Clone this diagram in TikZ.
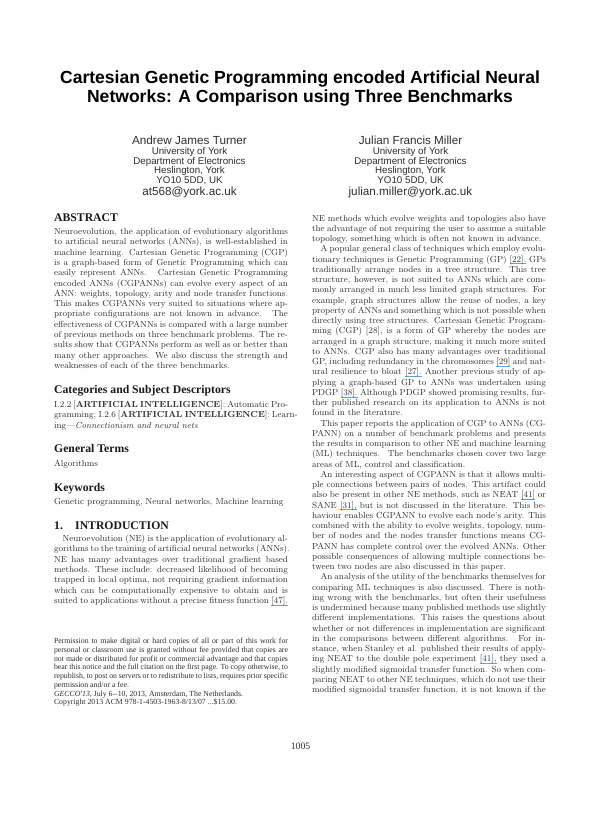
\documentclass[tikz,border=0pt]{standalone}
\usepackage{fontspec}
\newfontfamily\timesf{Liberation Serif}
\newfontfamily\helvf{Liberation Sans}
\definecolor{lnk}{RGB}{90,165,230}
\definecolor{bodyc}{gray}{0.18}
\newcounter{tl}
\newcommand\citeline[1]{\mbox{\setbox0\hbox{#1}\rlap{\textcolor{lnk}{\rule[-2pt]{\wd0}{0.7pt}}}\box0}}
\tikzset{
 txt/.style={anchor=base west,inner sep=0pt,outer sep=0pt,text=bodyc,font=\fontsize{8.8}{10}\selectfont},
 foot/.style={txt,font=\timesf\fontsize{7.8}{9}\selectfont},
 head/.style={anchor=base west,inner sep=0pt,text=black!90,font=\timesf\bfseries\fontsize{11.7}{13}\selectfont},
 title/.style={anchor=base,inner sep=0pt,text=black,font=\helvf\bfseries\fontsize{17.55}{20}\selectfont},
 aname/.style={anchor=base,inner sep=0pt,text=bodyc,font=\helvf\fontsize{11.7}{13}\selectfont},
 aff/.style={anchor=base,inner sep=0pt,text=bodyc,font=\helvf\fontsize{9.75}{11}\selectfont},
}
\newcommand\TJ[4]{\stepcounter{tl}\node[#1] (t\arabic{tl}) at (#2,#3) {\makebox[234pt][s]{#4}};}
\newcommand\TI[4]{\stepcounter{tl}\node[#1] (t\arabic{tl}) at (#2+8.6,#3) {\makebox[225.4pt][s]{#4}};}
\newcommand\TN[4]{\stepcounter{tl}\node[#1] (t\arabic{tl}) at (#2,#3) {#4};}
\newcommand\AL[2]{\TJ{txt}{54}{234.5+10.3*#1}{#2}}
\newcommand\IL[2]{\TJ{txt}{54}{541.5+10.3*#1}{#2}}
\newcommand\FL[2]{\TJ{foot}{54}{643.5+8.78*#1}{#2}}
\newcommand\RL[2]{\TJ{txt}{312}{221+10.25*#1}{#2}}
\newcommand\RI[2]{\TI{txt}{312}{221+10.25*#1}{#2}}
\newcommand\RN[2]{\TN{txt}{312}{221+10.25*#1}{#2}}
\begin{document}
\begin{tikzpicture}[x=1pt,y=-1pt]
\useasboundingbox (0,0) rectangle (600,825);
\fill[white] (0,0) rectangle (600,825);
% title
\node[title] (title1) at (300,83.3) {Cartesian Genetic Programming encoded Artificial Neural};
\node[title] (title2) at (300,102.7) {Networks: A Comparison using Three Benchmarks};
% authors
\node[aname] (a1) at (189.5,144) {Andrew James Turner};
\node[aff] (a2) at (189.5,154) {University of York};
\node[aff] (a3) at (189.5,164) {Department of Electronics};
\node[aff] (a4) at (189.5,173.7) {Heslington, York};
\node[aff] (a5) at (189.5,183.5) {YO10 5DD, UK};
\node[aname] (a6) at (189.5,195) {at568@york.ac.uk};
\node[aname] (b1) at (410.5,144) {Julian Francis Miller};
\node[aff] (b2) at (410.5,154) {University of York};
\node[aff] (b3) at (410.5,164) {Department of Electronics};
\node[aff] (b4) at (410.5,173.7) {Heslington, York};
\node[aff] (b5) at (410.5,183.5) {YO10 5DD, UK};
\node[aname] (b6) at (410.5,195) {julian.miller@york.ac.uk};
% left column
\node[head] (habs) at (54,221) {ABSTRACT};
\AL{0}{Neuroevolution, the application of evolutionary algorithms}
\AL{1}{to artificial neural networks (ANNs), is well-established in}
\AL{2}{machine learning. Cartesian Genetic Programming (CGP)}
\AL{3}{is a graph-based form of Genetic Programming which can}
\AL{4}{easily represent ANNs. \ Cartesian Genetic Programming}
\AL{5}{encoded ANNs (CGPANNs) can evolve every aspect of an}
\AL{6}{ANN: weights, topology, arity and node transfer functions.}
\AL{7}{This makes CGPANNs very suited to situations where ap-}
\AL{8}{propriate configurations are not known in advance. \ The}
\AL{9}{effectiveness of CGPANNs is compared with a large number}
\AL{10}{of previous methods on three benchmark problems. The re-}
\AL{11}{sults show that CGPANNs perform as well as or better than}
\AL{12}{many other approaches. We also discuss the strength and}
\TN{txt}{54}{234.5+10.3*13}{weaknesses of each of the three benchmarks.}
\node[head] (hcat) at (54,393) {Categories and Subject Descriptors};
\TJ{txt}{54}{407}{I.2.2 [\textbf{ARTIFICIAL INTELLIGENCE}]: Automatic Pro-}
\TJ{txt}{54}{417.5}{gramming; I.2.6 [\textbf{ARTIFICIAL INTELLIGENCE}]: Learn-}
\TN{txt}{54}{428}{ing---\textit{Connectionism and neural nets}}
\node[head] (hgen) at (54,452) {General Terms};
\TN{txt}{54}{466}{Algorithms}
\node[head] (hkey) at (54,491) {Keywords};
\TN{txt}{54}{504.5}{Genetic programming, Neural networks, Machine learning}
\node[head] (hint) at (54,529) {1.};
\node[head] (hint2) at (75,529) {INTRODUCTION};
\TI{txt}{54}{541.5}{Neuroevolution (NE) is the application of evolutionary al-}
\IL{1}{gorithms to the training of artificial neural networks (ANNs).}
\IL{2}{NE has many advantages over traditional gradient based}
\IL{3}{methods. These include: decreased likelihood of becoming}
\IL{4}{trapped in local optima, not requiring gradient information}
\IL{5}{which can be computationally expensive to obtain and is}
\IL{6}{suited to applications without a precise fitness function \citeline{[47].}}
% footnote
\FL{0}{Permission to make digital or hard copies of all or part of this work for}
\FL{1}{personal or classroom use is granted without fee provided that copies are}
\FL{2}{not made or distributed for profit or commercial advantage and that copies}
\FL{3}{bear this notice and the full citation on the first page. To copy otherwise, to}
\FL{4}{republish, to post on servers or to redistribute to lists, requires prior specific}
\TN{foot}{54}{643.5+8.78*5}{permission and/or a fee.}
\TN{foot}{54}{643.5+8.78*6}{\textit{GECCO'13,} July 6--10, 2013, Amsterdam, The Netherlands.}
\TN{foot}{54}{643.5+8.78*7}{Copyright 2013 ACM 978-1-4503-1963-8/13/07 ...\$15.00.}
\node[anchor=base,inner sep=0pt,text=bodyc,font=\timesf\fontsize{9.75}{11}\selectfont] (pg) at (300.5,749) {1005};
% right column
\RL{0}{NE methods which evolve weights and topologies also have}
\RL{1}{the advantage of not requiring the user to assume a suitable}
\RN{2}{topology, something which is often not known in advance.}
\RI{3}{A popular general class of techniques which employ evolu-}
\RL{4}{tionary techniques is Genetic Programming (GP) \citeline{[22].} GPs}
\RL{5}{traditionally arrange nodes in a tree structure. This tree}
\RL{6}{structure, however, is not suited to ANNs which are com-}
\RL{7}{monly arranged in much less limited graph structures. For}
\RL{8}{example, graph structures allow the reuse of nodes, a key}
\RL{9}{property of ANNs and something which is not possible when}
\RL{10}{directly using tree structures. Cartesian Genetic Program-}
\RL{11}{ming (CGP) [28], is a form of GP whereby the nodes are}
\RL{12}{arranged in a graph structure, making it much more suited}
\RL{13}{to ANNs. CGP also has many advantages over traditional}
\RL{14}{GP, including redundancy in the chromosomes \citeline{[29]} and nat-}
\RL{15}{ural resilience to bloat \citeline{[27].} Another previous study of ap-}
\RL{16}{plying a graph-based GP to ANNs was undertaken using}
\RL{17}{PDGP \citeline{[38].} Although PDGP showed promising results, fur-}
\RL{18}{ther published research on its application to ANNs is not}
\RN{19}{found in the literature.}
\RI{20}{This paper reports the application of CGP to ANNs (CG-}
\RL{21}{PANN) on a number of benchmark problems and presents}
\RL{22}{the results in comparison to other NE and machine learning}
\RL{23}{(ML) techniques. \ The benchmarks chosen cover two large}
\RN{24}{areas of ML, control and classification.}
\RI{25}{An interesting aspect of CGPANN is that it allows multi-}
\RL{26}{ple connections between pairs of nodes. This artifact could}
\RL{27}{also be present in other NE methods, such as NEAT \citeline{[41]} or}
\RL{28}{SANE \citeline{[31],} but is not discussed in the literature. This be-}
\RL{29}{haviour enables CGPANN to evolve each node's arity. This}
\RL{30}{combined with the ability to evolve weights, topology, num-}
\RL{31}{ber of nodes and the nodes transfer functions means CG-}
\RL{32}{PANN has complete control over the evolved ANNs. Other}
\RL{33}{possible consequences of allowing multiple connections be-}
\RN{34}{tween two nodes are also discussed in this paper.}
\RI{35}{An analysis of the utility of the benchmarks themselves for}
\RL{36}{comparing ML techniques is also discussed. There is noth-}
\RL{37}{ing wrong with the benchmarks, but often their usefulness}
\RL{38}{is undermined because many published methods use slightly}
\RL{39}{different implementations. This raises the questions about}
\RL{40}{whether or not differences in implementation are significant}
\RL{41}{in the comparisons between different algorithms. \ For in-}
\RL{42}{stance, when Stanley et al. published their results of apply-}
\RL{43}{ing NEAT to the double pole experiment \citeline{[41],} they used a}
\RL{44}{slightly modified sigmoidal transfer function. So when com-}
\RL{45}{paring NEAT to other NE techniques, which do not use their}
\RL{46}{modified sigmoidal transfer function, it is not known if the}
\end{tikzpicture}
\end{document}
